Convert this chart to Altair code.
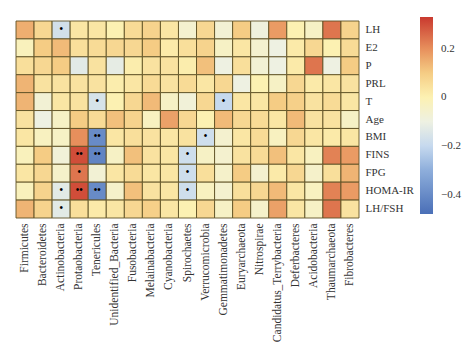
import altair as alt
import pandas as pd

columns = ["Firmicutes", "Bacteroidetes", "Actinobacteria", "Protaobacteria", "Tenericules",
           "Unidentified_Bacteria", "Fusobacteria", "Melainabacteria", "Cyanobacteria",
           "Spirochaetes", "Verrucomicrobia", "Gemmatimonadetes", "Euryarchaeota",
           "Nitrospirae", "Candidatus_Terrybacteria", "Deferbacteres", "Acidobacteria",
           "Thaumarchaeota", "Fibrobacteres"]
rows = ["LH", "E2", "P", "PRL", "T", "Age", "BMI", "FINS", "FPG", "HOMA-IR", "LH/FSH"]

values = [
    [0.15, 0.07, -0.17, 0.03, 0.03, 0.00, 0.06, 0.08, 0.03, -0.06, 0.07, -0.07, 0.10, -0.09, 0.18, 0.00, -0.04, 0.24, 0.08],
    [-0.02, 0.10, 0.13, 0.05, 0.06, 0.07, 0.07, 0.10, 0.02, 0.05, 0.08, -0.04, 0.03, -0.06, -0.10, 0.02, 0.07, 0.00, 0.06],
    [0.05, 0.07, 0.10, -0.13, 0.04, -0.12, 0.01, 0.04, 0.04, 0.01, 0.12, -0.10, 0.05, -0.07, -0.10, 0.02, 0.24, -0.10, 0.10],
    [0.14, 0.04, 0.04, 0.04, 0.04, 0.01, 0.03, 0.06, 0.04, 0.06, 0.03, 0.07, -0.10, 0.00, -0.04, 0.07, 0.02, 0.03, 0.04],
    [0.14, -0.07, 0.03, 0.04, -0.16, 0.00, 0.07, 0.13, -0.04, -0.08, 0.07, -0.20, 0.03, 0.03, 0.10, 0.09, 0.04, 0.06, 0.03],
    [0.04, -0.10, -0.04, 0.10, 0.06, 0.12, 0.08, -0.03, 0.17, 0.07, 0.00, 0.13, 0.07, 0.06, 0.03, 0.13, 0.04, 0.04, -0.04],
    [0.03, -0.03, -0.04, 0.20, -0.40, 0.03, 0.05, 0.04, 0.03, 0.04, -0.18, -0.06, 0.03, 0.06, -0.03, 0.07, 0.03, 0.02, 0.03],
    [-0.02, 0.10, -0.08, 0.30, -0.42, -0.04, 0.12, 0.04, 0.03, -0.18, -0.04, -0.06, 0.04, 0.06, 0.12, 0.03, -0.03, 0.22, 0.18],
    [0.03, 0.07, -0.05, 0.24, -0.07, 0.03, 0.06, 0.03, 0.03, -0.18, 0.05, -0.05, 0.10, -0.06, 0.02, 0.07, -0.05, 0.05, 0.14],
    [-0.02, 0.08, -0.13, 0.30, -0.40, -0.05, 0.12, 0.04, 0.03, -0.18, -0.03, -0.06, 0.05, 0.07, 0.13, 0.03, -0.03, 0.22, 0.18],
    [0.14, 0.08, -0.13, 0.05, 0.02, 0.03, 0.07, 0.09, 0.03, 0.00, 0.07, -0.04, 0.10, -0.05, 0.17, 0.03, -0.04, 0.24, 0.04],
]

# significance marks: (row, column, label)
sig_rows = ["LH", "T", "T", "BMI", "BMI", "FINS", "FINS", "FINS", "FPG", "FPG",
            "HOMA-IR", "HOMA-IR", "HOMA-IR", "HOMA-IR", "LH/FSH"]
sig_cols = ["Actinobacteria", "Tenericules", "Gemmatimonadetes", "Tenericules", "Verrucomicrobia",
            "Protaobacteria", "Tenericules", "Spirochaetes", "Protaobacteria", "Spirochaetes",
            "Actinobacteria", "Protaobacteria", "Tenericules", "Spirochaetes", "Actinobacteria"]
sig_marks = ["•", "•", "•", "••", "•", "••", "••", "•", "•", "•", "•", "••", "••", "•", "•"]

records = []
for i, r in enumerate(rows):
    for j, c in enumerate(columns):
        records.append({"row": r, "col": c, "value": values[i][j]})
df = pd.DataFrame(records)
sig = pd.DataFrame({"row": sig_rows, "col": sig_cols, "mark": sig_marks})

font = "Liberation Serif"

color_scale = alt.Scale(
    domain=[-0.48, -0.3, -0.2, -0.1, 0, 0.1, 0.2, 0.33],
    range=["#4a6fb7", "#8eaedb", "#c6d9ee", "#eef1e2", "#fcf1b2", "#f5cc84", "#e78f5c", "#c9392f"],
    interpolate="rgb",
)

x_enc = alt.X("col:N", sort=columns, title=None,
              axis=alt.Axis(labelAngle=-90, labelFont=font, labelFontSize=11.5, labelColor="#333",
                            domain=False, ticks=False, labelPadding=5, labelLimit=200))
y_enc = alt.Y("row:N", sort=rows, title=None,
              axis=alt.Axis(orient="right", labelFont=font, labelFontSize=11, labelColor="#333",
                            domain=False, ticks=False, labelPadding=6))

heat = alt.Chart(df).mark_rect(stroke="#5e5024", strokeWidth=0.9).encode(
    x=x_enc,
    y=y_enc,
    color=alt.Color("value:Q", scale=color_scale,
                    legend=alt.Legend(title=None, orient="none", legendX=404, legendY=-4,
                                      direction="vertical", gradientLength=197,
                                      gradientThickness=13, values=[-0.4, -0.2, 0, 0.2],
                                      format="~g", labelFont=font, labelFontSize=11,
                                      labelColor="#333", gradientStrokeWidth=0,
                                      labelOffset=8)),
)

dots = alt.Chart(sig).mark_text(fontSize=10, color="black", baseline="middle", dy=-1).encode(
    x=alt.X("col:N", sort=columns),
    y=alt.Y("row:N", sort=rows),
    text="mark:N",
)

chart = alt.layer(heat, dots).properties(
    width=343, height=197,
    autosize=alt.AutoSizeParams(type="none"),
    padding={"left": 16, "top": 21, "right": 115, "bottom": 135},
).configure_view(stroke=None).configure_scale(bandPaddingInner=0, bandPaddingOuter=0)

chart.save("out.html", embed_options={"renderer": "svg", "actions": False})
